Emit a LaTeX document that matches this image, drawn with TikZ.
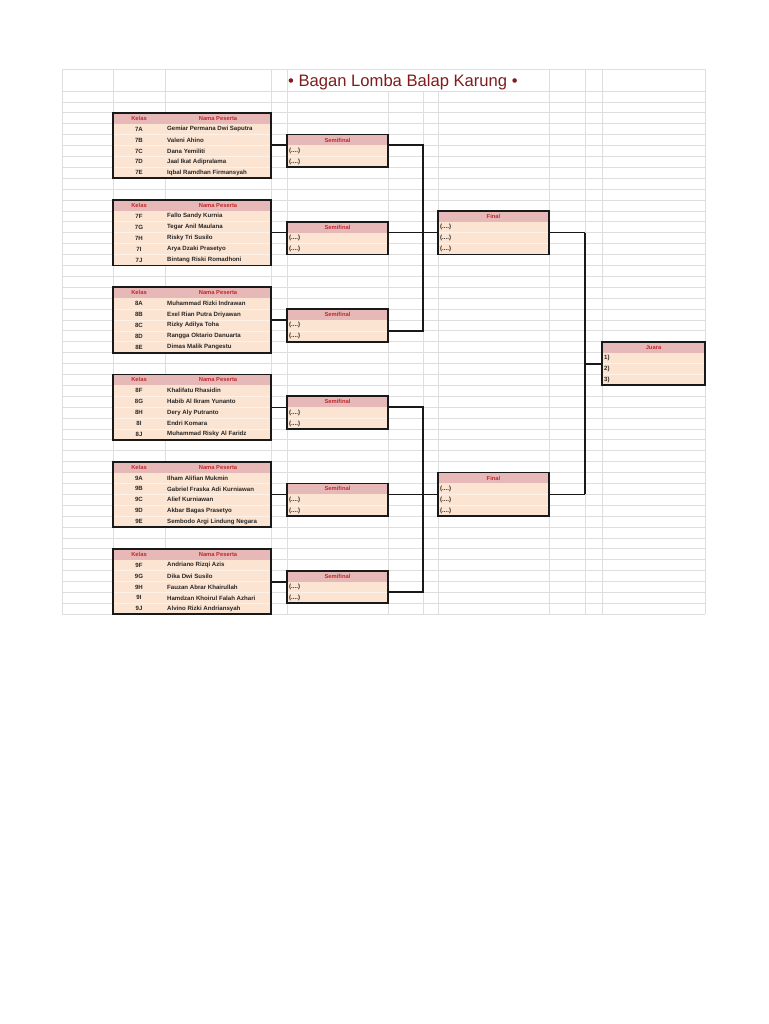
\documentclass[tikz,border=0pt]{standalone}
\usepackage{fontspec}
\setmainfont{Liberation Sans}
\definecolor{hdr}{HTML}{E6B8B7}
\definecolor{bodyc}{HTML}{FCE4D2}
\definecolor{hdrtxt}{HTML}{C0282D}
\definecolor{ttl}{HTML}{7F1D1D}
\definecolor{gridc}{HTML}{DEDEDE}
\definecolor{sepc}{HTML}{FFF1E6}
\newcommand\pesrow[4]{%
  \pgfmathsetmacro\yy{91+(2+8*#1+#2+0.5)*10.9}
  \node[ctxt] (k#1#2) at (139,\yy) {#3};
  \node[btxt] (n#1#2) at (167,\yy) {#4};
}
\newcommand\blankent{(....)}
\begin{document}
\begin{tikzpicture}[x=1pt,y=-1pt,
  fillbox/.style={fill=bodyc, inner sep=0pt, outer sep=0pt, anchor=north west},
  border/.style={draw=black!90, line width=1.8pt},
  htxt/.style={font=\fontsize{5.8pt}{6pt}\selectfont\bfseries, text=hdrtxt, inner sep=0pt},
  btxt/.style={font=\fontsize{6.1pt}{6pt}\selectfont\bfseries, text=black!85, anchor=west, inner sep=0pt},
  ctxt/.style={font=\fontsize{6.1pt}{6pt}\selectfont\bfseries, text=black!85, inner sep=0pt},
  thickc/.style={line width=2pt, draw=black!90},
  thinc/.style={line width=1.1pt, draw=black!90},
  gline/.style={draw=gridc, line width=0.7pt},
]
\useasboundingbox (0,0) rectangle (768,1024);
\fill[white] (0,0) rectangle (768,1024);
% spreadsheet grid
\foreach \k in {0,...,48} {
  \coordinate (r\k) at (0,{91+\k*10.9});
  \draw[gline] (62,{91+\k*10.9}) -- (705,{91+\k*10.9});
}
\draw[gline] (62,69) -- (705,69);
\foreach \gx in {62,113,165,271,287,549,585,602,705}
  \draw[gline] (\gx,69) -- (\gx,614.2);
\foreach \gx in {388,423,438}
  \draw[gline] (\gx,91) -- (\gx,614.2);
\coordinate (v1) at (423,0);
\coordinate (v2) at (584.5,0);
% title
\node[anchor=base west, inner sep=0pt, text=ttl, font=\fontsize{16.6pt}{18pt}\selectfont] (title) at (288,86.5) {• Bagan Lomba Balap Karung •};
% participant tables and semifinal boxes
\foreach \b in {0,...,5} {
  \pgfmathsetmacro\ty{91+(2+8*\b)*10.9}
  \pgfmathsetmacro\sy{91+(4+8*\b)*10.9}
  \node[fillbox, minimum width=158pt, minimum height=65.4pt] (t\b) at (113,\ty) {};
  \fill[hdr] (t\b.north west) rectangle ([yshift=-10.9pt]t\b.north east);
  \foreach \i in {2,3,4,5}
    \draw[sepc, line width=0.6pt] ([yshift={-\i*10.9pt}]t\b.north west) -- ([yshift={-\i*10.9pt}]t\b.north east);
  \draw[border] (t\b.north west) rectangle (t\b.south east);
  \node[htxt] (kh\b) at (139,{\ty+5.45}) {Kelas};
  \node[htxt] (nh\b) at (218,{\ty+5.45}) {Nama Peserta};
  \node[fillbox, minimum width=101pt, minimum height=32.7pt] (s\b) at (287,\sy) {};
  \fill[hdr] (s\b.north west) rectangle ([yshift=-10.9pt]s\b.north east);
  \draw[sepc, line width=0.6pt] ([yshift=-21.8pt]s\b.north west) -- ([yshift=-21.8pt]s\b.north east);
  \draw[border] (s\b.north west) rectangle (s\b.south east);
  \node[htxt] (sh\b) at (337.5,{\sy+5.45}) {Semifinal};
  \node[btxt] (sa\b) at (289,{\sy+16.35}) {\blankent};
  \node[btxt] (sb\b) at (289,{\sy+27.25}) {\blankent};
}
\pesrow{0}{1}{7A}{Gemiar Permana Dwi Saputra}
\pesrow{0}{2}{7B}{Valeni Ahino}
\pesrow{0}{3}{7C}{Dana Yemiliti}
\pesrow{0}{4}{7D}{Jaal Ikat Adipralama}
\pesrow{0}{5}{7E}{Iqbal Ramdhan Firmansyah}
\pesrow{1}{1}{7F}{Fallo Sandy Kurnia}
\pesrow{1}{2}{7G}{Tegar Anil Maulana}
\pesrow{1}{3}{7H}{Risky Tri Susilo}
\pesrow{1}{4}{7I}{Arya Dzaki Prasetyo}
\pesrow{1}{5}{7J}{Bintang Riski Romadhoni}
\pesrow{2}{1}{8A}{Muhammad Rizki Indrawan}
\pesrow{2}{2}{8B}{Exel Rian Putra Driyawan}
\pesrow{2}{3}{8C}{Rizky Adilya Toha}
\pesrow{2}{4}{8D}{Rangga Oktario Danuarta}
\pesrow{2}{5}{8E}{Dimas Malik Pangestu}
\pesrow{3}{1}{8F}{Khalifatu Rhasidin}
\pesrow{3}{2}{8G}{Habib Al Ikram Yunanto}
\pesrow{3}{3}{8H}{Dery Aly Putranto}
\pesrow{3}{4}{8I}{Endri Komara}
\pesrow{3}{5}{8J}{Muhammad Risky Al Faridz}
\pesrow{4}{1}{9A}{Ilham Alifian Mukmin}
\pesrow{4}{2}{9B}{Gabriel Fraska Adi Kurniawan}
\pesrow{4}{3}{9C}{Alief Kurniawan}
\pesrow{4}{4}{9D}{Akbar Bagas Prasetyo}
\pesrow{4}{5}{9E}{Sembodo Argi Lindung Negara}
\pesrow{5}{1}{9F}{Andriano Rizqi Azis}
\pesrow{5}{2}{9G}{Dika Dwi Susilo}
\pesrow{5}{3}{9H}{Fauzan Abrar Khairullah}
\pesrow{5}{4}{9I}{Hamdzan Khoirul Falah Azhari}
\pesrow{5}{5}{9J}{Alvino Rizki Andriansyah}
% finals and juara
\foreach \nm/\xx/\rr/\w/\hd/\la/\lb/\lc in {f1/438/11/111/Final/\blankent/\blankent/\blankent, f2/438/35/111/Final/\blankent/\blankent/\blankent, j/602/23/103/Juara/1)/2)/3)} {
  \pgfmathsetmacro\fy{91+\rr*10.9}
  \node[fillbox, minimum width=\w pt, minimum height=43.6pt] (\nm) at (\xx,\fy) {};
  \fill[hdr] (\nm.north west) rectangle ([yshift=-10.9pt]\nm.north east);
  \foreach \i in {2,3}
    \draw[sepc, line width=0.6pt] ([yshift={-\i*10.9pt}]\nm.north west) -- ([yshift={-\i*10.9pt}]\nm.north east);
  \draw[border] (\nm.north west) rectangle (\nm.south east);
  \node[htxt] (\nm h) at ({\xx+\w/2},{\fy+5.45}) {\hd};
  \node[btxt] (\nm a) at ({\xx+2},{\fy+16.35}) {\la};
  \node[btxt] (\nm b) at ({\xx+2},{\fy+27.25}) {\lb};
  \node[btxt] (\nm c) at ({\xx+2},{\fy+38.15}) {\lc};
}
% connectors: tables to semifinals
\draw[thickc] (t0.east |- r5) -- (s0.west |- r5);
\draw[thinc] (t1.east |- r13) -- (s1.west |- r13);
\draw[thickc] (t2.east |- r21) -- (s2.west |- r21);
\draw[thinc] (t3.east |- r29) -- (s3.west |- r29);
\draw[thinc] (t4.east |- r37) -- (s4.west |- r37);
\draw[thickc] (t5.east |- r45) -- (s5.west |- r45);
% semifinals to finals
\draw[thickc] (s0.east |- r5) -- (v1 |- r5) -- (v1 |- r22) -- (s2.east |- r22);
\draw[thinc] (s1.east |- r13) -- (f1.west |- r13);
\draw[thickc] (s3.east |- r29) -- (v1 |- r29) -- (v1 |- r46) -- (s5.east |- r46);
\draw[thinc] (s4.east |- r37) -- (f2.west |- r37);
% finals to juara
\draw[thinc] (f1.east |- r13) -- (v2 |- r13);
\draw[thinc] (f2.east |- r37) -- (v2 |- r37);
\draw[thickc] (v2 |- r13) -- (v2 |- r37);
\draw[thickc] (v2 |- r25) -- (j.west |- r25);
\end{tikzpicture}
\end{document}
